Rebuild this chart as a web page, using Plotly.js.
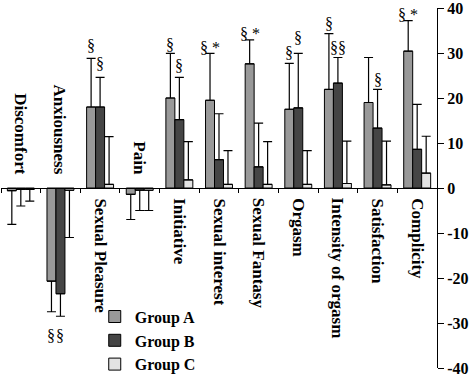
<!DOCTYPE html>
<html>
<head>
<meta charset="utf-8">
<script src="https://cdn.plot.ly/plotly-3.0.1.min.js"></script>
<style>html,body{margin:0;padding:0;background:#fff;}#chart{width:474px;height:376px;}</style>
</head>
<body>
<div id="chart"></div>
<script>
var categories = ['Discomfort','Anxiousness','Sexual Pleasure','Pain','Initiative','Sexual interest','Sexual Fantasy','Orgasm','Intensity of orgasm','Satisfaction','Complicity'];
var groupNames = ['Group A','Group B','Group C'];
var groupA = [-0.6, -20.7, 18.0, -1.4, 20.0, 19.5, 27.6, 17.5, 21.9, 19.0, 30.4];
var groupB = [-0.3, -23.5, 18.0, -0.5, 15.2, 6.3, 4.7, 17.8, 23.3, 13.3, 8.6];
var groupC = [-0.3, -0.5, 0.8, -0.5, 1.8, 0.8, 0.8, 0.8, 1.0, 0.7, 3.3];
var sdA = [7.5, 6.8, 10.8, 5.6, 9.9, 10.4, 5.3, 10.2, 12.4, 10.0, 6.8];
var sdB = [3.7, 5.0, 6.6, 4.5, 9.4, 10.2, 9.7, 12.1, 5.7, 8.6, 10.0];
var sdC = [2.6, 10.5, 10.6, 4.5, 8.5, 7.5, 9.5, 7.5, 9.4, 9.7, 8.2];
var yTicks = [-40, -30, -20, -10, 0, 10, 20, 30, 40];
var yTickText = ['-40', '-30', '-20', '-10', '0', '10', '20', '30', '40'];
// significance marks: category index, group index, text, y position
var sigCat = [1, 1, 2, 2, 4, 4, 5, 6, 7, 7, 8, 8, 9, 10];
var sigGroup = [0, 1, 0, 1, 0, 1, 0, 0, 0, 1, 0, 1, 1, 0];
var sigText = ['§','§','§','§','§','§','§ *','§ *','§','§','§','§§','§','§ *'];
var sigY = [-32.7, -32.7, 31.6, 27.7, 32.0, 27.2, 31.2, 34.3, 30.1, 33.4, 36.5, 31.2, 24.2, 38.5];

var colors = ['#999999', '#454545', '#e3e3e3'];
var values = [groupA, groupB, groupC];
var sds = [sdA, sdB, sdC];
var serif = 'Liberation Serif, Times New Roman, serif';
var xIdx = categories.map(function(c, i){ return i; });

var traces = values.map(function(v, g){
  return {
    type: 'bar',
    name: groupNames[g],
    x: xIdx,
    y: v,
    marker: {color: colors[g], line: {color: '#000', width: 1}},
    error_y: {
      type: 'data', symmetric: false, visible: true,
      array: v.map(function(val, i){ return val >= 0 ? sds[g][i] : 0; }),
      arrayminus: v.map(function(val, i){ return val < 0 ? sds[g][i] : 0; }),
      color: '#000', thickness: 1.2, width: 4.5
    }
  };
});

var barW = 0.68 / 3;
var annotations = [];
categories.forEach(function(c, i){
  var neg = groupA[i] < 0;
  annotations.push({
    x: i, y: 0, xref: 'x', yref: 'y', text: '<b>' + c + '</b>', showarrow: false,
    textangle: 90, xanchor: 'center',
    yanchor: neg ? 'bottom' : 'top', yshift: neg ? 11 : -8,
    font: {family: serif, size: 17, color: '#000'}
  });
});
sigText.forEach(function(t, k){
  annotations.push({
    x: sigCat[k] + (sigGroup[k] - 1) * barW, y: sigY[k], xref: 'x', yref: 'y',
    text: t, showarrow: false, xanchor: 'center', yanchor: 'middle',
    font: {family: serif, size: 16, color: '#000'}
  });
});

var layout = {
  width: 474, height: 376,
  margin: {l: 1, r: 37, t: 8, b: 8, pad: 0, autoexpand: false},
  paper_bgcolor: '#fff', plot_bgcolor: '#fff',
  barmode: 'group', bargap: 0.32, bargroupgap: 0,
  showlegend: true,
  legend: {x: 0.215, y: 0.19, xanchor: 'left', yanchor: 'top', bgcolor: 'rgba(0,0,0,0)',
    font: {family: serif, size: 16, color: '#000', weight: 'bold'}, traceorder: 'normal'},
  xaxis: {
    type: 'linear', range: [-0.5, 10.5], anchor: 'free', position: 0.5, automargin: false,
    showline: true, linecolor: '#000', linewidth: 1,
    tickmode: 'array', tickvals: [-0.5,0.5,1.5,2.5,3.5,4.5,5.5,6.5,7.5,8.5,9.5,10.5],
    ticks: 'outside', ticklen: 4, tickcolor: '#000', showticklabels: false,
    showgrid: false, zeroline: false
  },
  yaxis: {
    side: 'right', range: [-40, 40], tickmode: 'array', tickvals: yTicks,
    ticktext: yTickText.map(function(t){ return '<b>' + t + '</b>'; }),
    automargin: false, ticklabeloverflow: 'allow',
    showline: true, linecolor: '#000', linewidth: 1,
    ticks: 'outside', ticklen: 6, tickcolor: '#000',
    tickfont: {family: serif, size: 16, color: '#000'},
    showgrid: false, zeroline: false
  },
  annotations: annotations
};

Plotly.newPlot('chart', traces, layout, {displayModeBar: false, staticPlot: true});
</script>
</body>
</html>
